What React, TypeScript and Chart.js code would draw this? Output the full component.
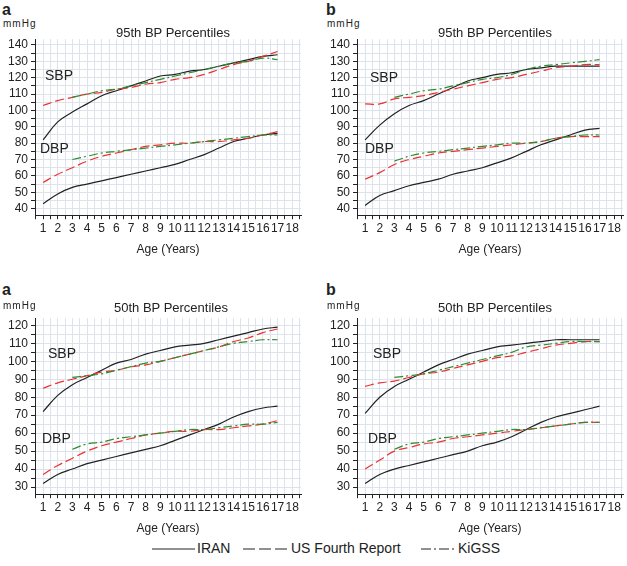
import React, { useEffect, useRef } from "react";
import { Chart, registerables } from "chart.js";
Chart.register(...registerables);

const ages = [1, 2, 3, 4, 5, 6, 7, 8, 9, 10, 11, 12, 13, 14, 15, 16, 17];
const kigssAges = [3, 4, 5, 6, 7, 8, 9, 10, 11, 12, 13, 14, 15, 16, 17];

// 95th a
const a95IranSbp = [82, 93, 99, 104, 109, 112, 115, 118, 121, 122, 124, 125, 127, 129, 131, 133, 134];
const a95UsSbp = [103, 106, 108, 110, 111, 113, 114, 116, 117, 119, 120, 122, 125, 128, 130, 133, 136];
const a95KiSbp = [108, 110, 112, 113, 115, 117, 119, 121, 123, 125, 127, 129, 130, 132, 131];
const a95IranDbp = [43, 49, 53, 55, 57, 59, 61, 63, 65, 67, 70, 73, 77, 81, 83, 85, 86];
const a95UsDbp = [56, 61, 65, 69, 72, 74, 76, 78, 79, 80, 80, 81, 81, 82, 83, 85, 87];
const a95KiDbp = [70, 72, 74, 75, 76, 77, 78, 79, 80, 81, 82, 83, 84, 85, 85];
// 95th b
const b95IranSbp = [82, 91, 98, 103, 106, 110, 114, 118, 120, 122, 123, 125, 126, 127, 127, 127, 127];
const b95UsSbp = [104, 104, 107, 108, 109, 111, 113, 115, 117, 119, 120, 122, 124, 126, 127, 128, 128];
const b95KiSbp = [108, 110, 112, 113, 115, 117, 119, 120, 122, 125, 127, 128, 129, 130, 131];
const b95IranDbp = [42, 48, 51, 54, 56, 58, 61, 63, 65, 68, 71, 75, 79, 82, 85, 88, 89];
const b95UsDbp = [58, 62, 67, 70, 72, 74, 75, 76, 77, 78, 79, 80, 81, 83, 84, 84, 84];
const b95KiDbp = [69, 72, 74, 75, 76, 77, 78, 79, 80, 80, 81, 83, 84, 85, 85];
// 50th a
const a50IranSbp = [72, 81, 87, 91, 95, 99, 101, 104, 106, 108, 109, 110, 112, 114, 116, 118, 119];
const a50UsSbp = [85, 88, 90, 92, 94, 95, 97, 98, 100, 102, 104, 106, 108, 111, 113, 116, 118];
const a50KiSbp = [91, 92, 93, 95, 97, 99, 100, 102, 104, 106, 108, 110, 111, 112, 112];
const a50IranDbp = [32, 37, 40, 43, 45, 47, 49, 51, 53, 56, 59, 62, 65, 69, 72, 74, 75];
const a50UsDbp = [37, 42, 46, 50, 53, 55, 57, 59, 60, 61, 61, 62, 62, 63, 64, 65, 67];
const a50KiDbp = [51, 54, 55, 57, 58, 59, 60, 61, 62, 62, 63, 64, 65, 65, 66];
// 50th b
const b50IranSbp = [71, 80, 86, 90, 94, 98, 101, 104, 106, 108, 109, 110, 111, 112, 112, 112, 112];
const b50UsSbp = [86, 88, 89, 91, 93, 94, 96, 98, 100, 102, 103, 105, 107, 109, 110, 111, 111];
const b50KiSbp = [91, 92, 93, 95, 97, 99, 101, 103, 105, 108, 109, 110, 111, 111, 111];
const b50IranDbp = [32, 37, 40, 42, 44, 46, 48, 50, 53, 55, 58, 62, 66, 69, 71, 73, 75];
const b50UsDbp = [40, 45, 50, 52, 54, 55, 57, 58, 59, 60, 61, 62, 63, 64, 65, 66, 66];
const b50KiDbp = [51, 54, 55, 57, 58, 59, 60, 61, 62, 62, 63, 64, 65, 66, 66];

const FONT = "'Liberation Sans', Arial, sans-serif";

function pts(xs: number[], ys: number[]) {
  return xs.map((x, i) => ({ x, y: ys[i] }));
}

type PanelProps = {
  left: number; top: number; height: number; ymin: number; ymax: number;
  iran: number[][]; us: number[][]; ki: number[][];
};

function Panel({ left, top, height, ymin, ymax, iran, us, ki }: PanelProps) {
  const ref = useRef<HTMLCanvasElement>(null);
  useEffect(() => {
    const mk = (label: string, data: any, color: string, dash: number[]) => ({
      label, data, borderColor: color, borderWidth: 1.2, borderDash: dash,
      pointRadius: 0, tension: 0.4, fill: false,
    });
    const ds: any[] = [];
    [0, 1].forEach((k) => {
      ds.push(mk("KiGSS", pts(kigssAges, ki[k]), "#2e8b2e", [9, 3, 2, 3]));
      ds.push(mk("US", pts(ages, us[k]), "#ee3030", [9, 4]));
      ds.push(mk("IRAN", pts(ages, iran[k]), "#222", []));
    });
    const grid = { color: "#dde3ec", tickLength: 4, tickColor: "#222" };
    const ch = new Chart(ref.current!, {
      type: "line",
      data: { datasets: ds },
      options: {
        animation: false, responsive: false,
        layout: { padding: { left: 5, top: 2, right: 4, bottom: 0 } },
        plugins: { legend: { display: false }, tooltip: { enabled: false } },
        scales: {
          x: {
            type: "linear", min: 0.45, max: 18.6,
            afterBuildTicks: (s: any) => {
              const t = [];
              for (let v = 0.5; v <= 18.5; v += 0.5) t.push({ value: v });
              s.ticks = t;
            },
            ticks: {
              autoSkip: false, maxRotation: 0, padding: 2,
              color: "#222", font: { family: FONT, size: 12 },
              callback: (v: any) => (Number.isInteger(v) ? String(v) : ""),
            },
            grid,
            border: { color: "#222", width: 1 },
            title: { display: true, text: "Age (Years)", color: "#222", font: { family: FONT, size: 12 }, padding: { top: 5 } },
          },
          y: {
            min: ymin, max: ymax,
            afterBuildTicks: (s: any) => {
              const t = [];
              for (let v = Math.ceil(ymin / 5) * 5; v <= ymax; v += 5) t.push({ value: v });
              s.ticks = t;
            },
            ticks: {
              autoSkip: false, padding: 3, color: "#222", font: { family: FONT, size: 12 },
              callback: (v: any) => (v % 10 === 0 ? String(v) : ""),
            },
            grid,
            border: { color: "#222", width: 1 },
          },
        },
      },
    });
    return () => ch.destroy();
  }, []);
  return (
    <canvas ref={ref} width={305} height={height}
      style={{ position: "absolute", left, top, width: 305, height }} />
  );
}

const txt = (s: string, x: number, y: number, size: number, extra: any = {}) => (
  <div style={{ position: "absolute", left: x, top: y, fontSize: size, fontFamily: FONT, color: "#222", whiteSpace: "nowrap", lineHeight: 1, ...extra }}>{s}</div>
);

export default function App() {
  return (
    <div style={{ position: "absolute", left: 0, top: 0, width: 627, height: 566, background: "#fff", overflow: "hidden" }}>
      <Panel left={0} top={29} height={232} ymin={36} ymax={143.5}
        iran={[a95IranSbp, a95IranDbp]} us={[a95UsSbp, a95UsDbp]} ki={[a95KiSbp, a95KiDbp]} />
      <Panel left={322} top={29} height={232} ymin={36} ymax={143.5}
        iran={[b95IranSbp, b95IranDbp]} us={[b95UsSbp, b95UsDbp]} ki={[b95KiSbp, b95KiDbp]} />
      <Panel left={0} top={308} height={232} ymin={26} ymax={124}
        iran={[a50IranSbp, a50IranDbp]} us={[a50UsSbp, a50UsDbp]} ki={[a50KiSbp, a50KiDbp]} />
      <Panel left={322} top={308} height={232} ymin={26} ymax={124}
        iran={[b50IranSbp, b50IranDbp]} us={[b50UsSbp, b50UsDbp]} ki={[b50KiSbp, b50KiDbp]} />

      {txt("a", 2, 2, 16, { fontWeight: "bold" })}
      {txt("b", 326, 2, 16, { fontWeight: "bold" })}
      {txt("a", 2, 282, 16, { fontWeight: "bold" })}
      {txt("b", 326, 282, 16, { fontWeight: "bold" })}
      {txt("mmHg", 3, 19, 10, { letterSpacing: 1 })}
      {txt("mmHg", 327, 19, 10, { letterSpacing: 1 })}
      {txt("mmHg", 3, 301, 10, { letterSpacing: 1 })}
      {txt("mmHg", 327, 301, 10, { letterSpacing: 1 })}
      {txt("95th BP Percentiles", 116, 26, 13)}
      {txt("95th BP Percentiles", 438, 26, 13)}
      {txt("50th BP Percentiles", 114, 301, 13)}
      {txt("50th BP Percentiles", 438, 301, 13)}
      {txt("SBP", 45, 68, 14)}
      {txt("DBP", 40, 141, 14)}
      {txt("SBP", 370, 70, 14)}
      {txt("DBP", 365, 141, 14)}
      {txt("SBP", 48, 346, 14)}
      {txt("DBP", 42, 431, 14)}
      {txt("SBP", 373, 346, 14)}
      {txt("DBP", 368, 431, 14)}

      <svg style={{ position: "absolute", left: 0, top: 540 }} width={627} height={16}>
        <line x1={152} y1={9} x2={195} y2={9} stroke="#222" strokeWidth={1} />
        <line x1={243} y1={9} x2={289} y2={9} stroke="#222" strokeWidth={1} strokeDasharray="12,4" />
        <line x1={421} y1={9} x2={455} y2={9} stroke="#222" strokeWidth={1} strokeDasharray="10,3,2,3" />
      </svg>
      {txt("IRAN", 197, 541, 14)}
      {txt("US Fourth Report", 291, 541, 14)}
      {txt("KiGSS", 458, 541, 14)}
    </div>
  );
}
